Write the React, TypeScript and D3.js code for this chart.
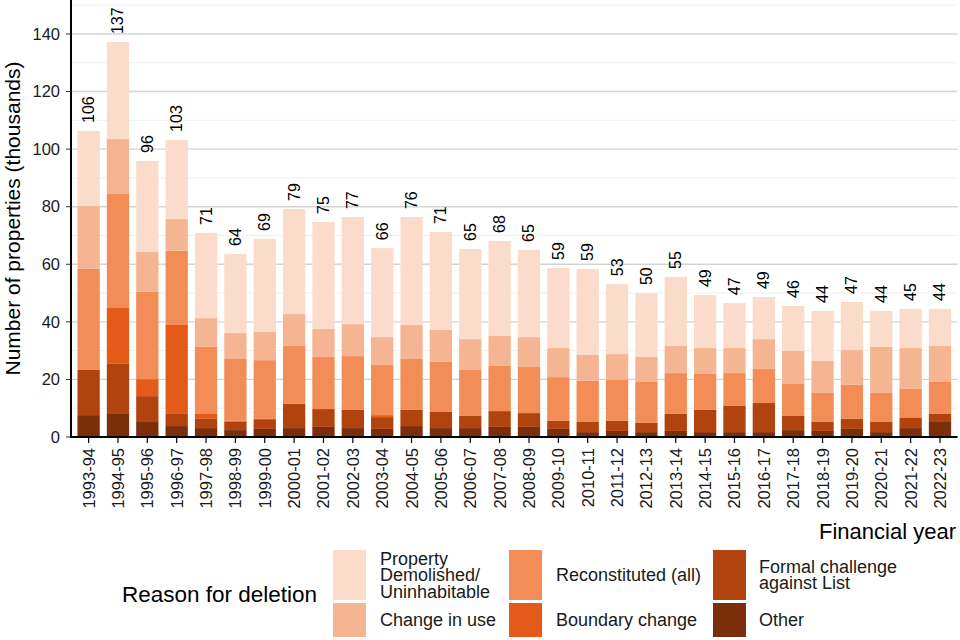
import React from "react";
import * as d3 from "d3";

// financial years (x categories)
const years = [
  "1993-94", "1994-95", "1995-96", "1996-97", "1997-98", "1998-99", "1999-00",
  "2000-01", "2001-02", "2002-03", "2003-04", "2004-05", "2005-06", "2006-07",
  "2007-08", "2008-09", "2009-10", "2010-11", "2011-12", "2012-13", "2013-14",
  "2014-15", "2015-16", "2016-17", "2017-18", "2018-19", "2019-20", "2020-21",
  "2021-22", "2022-23",
];

// values in thousands (bottom of stack first)
const other = [7.6, 8.0, 5.2, 3.8, 3.1, 2.4, 2.8, 3.1, 3.5, 3.1, 2.8, 3.8, 3.1, 3.1, 3.5, 3.5, 2.8, 1.7, 2.1, 1.7, 2.1, 1.7, 1.7, 1.7, 2.4, 2.1, 2.8, 1.7, 3.1, 5.2];
const formal = [15.7, 17.4, 9.0, 4.2, 3.2, 3.0, 3.1, 8.4, 6.2, 6.3, 4.1, 5.6, 5.6, 4.2, 5.5, 4.8, 2.8, 3.5, 3.5, 3.2, 5.9, 7.7, 9.1, 10.1, 4.9, 3.1, 3.5, 3.5, 3.5, 2.8];
const boundary = [0, 19.4, 5.9, 30.9, 1.7, 0.2, 0.4, 0, 0, 0, 0.7, 0, 0, 0, 0, 0, 0, 0, 0, 0, 0, 0, 0, 0, 0, 0, 0, 0, 0, 0];
const reconstituted = [35.1, 39.6, 30.3, 25.8, 23.3, 21.5, 20.4, 20.1, 18.1, 18.7, 17.4, 17.7, 17.4, 16.0, 15.7, 16.0, 15.2, 14.3, 14.2, 14.2, 14.2, 12.5, 11.4, 11.8, 11.1, 10.1, 11.8, 10.1, 10.1, 11.1];
const changeInUse = [21.8, 19.1, 13.9, 11.0, 10.0, 9.0, 9.8, 11.1, 9.7, 11.1, 9.7, 11.8, 11.1, 10.7, 10.4, 10.4, 10.1, 9.0, 9.0, 8.7, 9.4, 9.0, 8.7, 10.4, 11.5, 11.1, 12.1, 16.0, 14.2, 12.5];
const demolished = [26.1, 33.7, 31.6, 27.5, 29.6, 27.5, 32.3, 36.5, 37.2, 37.2, 30.9, 37.5, 34.0, 31.3, 33.0, 30.3, 27.8, 29.9, 24.3, 22.2, 24.0, 18.4, 15.6, 14.6, 15.6, 17.4, 16.7, 12.5, 13.6, 12.9];

// total labels shown above bars
const totals = [106, 137, 96, 103, 71, 64, 69, 79, 75, 77, 66, 76, 71, 65, 68, 65, 59, 59, 53, 50, 55, 49, 47, 49, 46, 44, 47, 44, 45, 44];

const yTicks = [0, 20, 40, 60, 80, 100, 120, 140];
const yMinor = [10, 30, 50, 70, 90, 110, 130, 150];

const seriesKeys = ["other", "formal", "boundary", "reconstituted", "changeInUse", "demolished"];
const seriesNames: Record<string, string[]> = {
  demolished: ["Property", "Demolished/", "Uninhabitable"],
  changeInUse: ["Change in use"],
  reconstituted: ["Reconstituted (all)"],
  boundary: ["Boundary change"],
  formal: ["Formal challenge", "against List"],
  other: ["Other"],
};
const colors: Record<string, string> = {
  demolished: "#fbdccb",
  changeInUse: "#f6b592",
  reconstituted: "#f28d57",
  boundary: "#e35a19",
  formal: "#b0430e",
  other: "#7a2e09",
};

const font = "'Liberation Sans', Arial, Helvetica, sans-serif";

export default function App() {
  const left = 71;
  const right = 957.6;
  const top = 0;
  const bottom = 437;

  const rows = years.map((yr, i) => ({
    year: yr,
    other: other[i],
    formal: formal[i],
    boundary: boundary[i],
    reconstituted: reconstituted[i],
    changeInUse: changeInUse[i],
    demolished: demolished[i],
  }));

  const stacked = d3.stack<any>().keys(seriesKeys)(rows);

  // ggplot-like discrete expansion of 0.6 on each side
  const step = (right - left) / (years.length - 1 + 1.2);
  const x = (i: number) => left + step * (0.6 + i);
  const barW = step * 0.76;

  const y = d3.scaleLinear().domain([0, 151.8]).range([bottom, top]);

  const legendCols = [
    { keys: ["demolished", "changeInUse"], kx: 333, lx: 380 },
    { keys: ["reconstituted", "boundary"], kx: 509, lx: 556 },
    { keys: ["formal", "other"], kx: 713, lx: 759 },
  ];
  const legendRows = [
    { y0: 550, h: 50 },
    { y0: 603, h: 34 },
  ];

  return (
    <svg
      width={960}
      height={640}
      style={{ position: "absolute", left: 0, top: 0, background: "#fff" }}
      fontFamily={font}
    >
      {/* gridlines */}
      {yMinor.map((t) => (
        <line key={"m" + t} x1={left} x2={right} y1={y(t)} y2={y(t)} stroke="#ebebeb" strokeWidth={0.8} />
      ))}
      {yTicks.map((t) => (
        <line key={"g" + t} x1={left} x2={right} y1={y(t)} y2={y(t)} stroke="#d4d4d4" strokeWidth={1.4} />
      ))}

      {/* bars */}
      {stacked.map((s) => (
        <g key={s.key} fill={colors[s.key]}>
          {s.map((d, i) => (
            <rect
              key={i}
              x={x(i) - barW / 2}
              y={y(d[1])}
              width={barW}
              height={Math.max(0, y(d[0]) - y(d[1]))}
            />
          ))}
        </g>
      ))}

      {/* total labels */}
      {totals.map((t, i) => {
        const topVal = stacked[stacked.length - 1][i][1];
        const ly = y(topVal) - 8;
        return (
          <text
            key={"t" + i}
            transform={`translate(${x(i) + 5.5},${ly}) rotate(-90)`}
            fontSize={16}
            textAnchor="start"
            fill="#000"
          >
            {t}
          </text>
        );
      })}

      {/* axes */}
      <line x1={left} x2={left} y1={0} y2={bottom + 1} stroke="#000" strokeWidth={2} />
      <line x1={left - 1} x2={right} y1={bottom} y2={bottom} stroke="#000" strokeWidth={2} />
      {yTicks.map((t) => (
        <g key={"yt" + t}>
          <line x1={left - 5} x2={left} y1={y(t)} y2={y(t)} stroke="#333" strokeWidth={1} />
          <text x={60} y={y(t)} dy="0.35em" textAnchor="end" fontSize={16.5} fill="#1a1a1a">
            {t}
          </text>
        </g>
      ))}
      {years.map((yr, i) => (
        <g key={"xt" + yr}>
          <line x1={x(i)} x2={x(i)} y1={bottom} y2={bottom + 6} stroke="#000" strokeWidth={1.2} />
          <text
            transform={`translate(${x(i) + 6},${bottom + 11}) rotate(-90)`}
            textAnchor="end"
            fontSize={16.5}
            fill="#1a1a1a"
          >
            {yr}
          </text>
        </g>
      ))}

      {/* axis titles */}
      <text transform={`translate(20,${(top + bottom) / 2}) rotate(-90)`} textAnchor="middle" fontSize={21}>
        Number of properties (thousands)
      </text>
      <text x={956} y={539} textAnchor="end" fontSize={22}>
        Financial year
      </text>

      {/* legend */}
      <text x={122} y={602} fontSize={22.5}>
        Reason for deletion
      </text>
      {legendCols.map((col, ci) =>
        col.keys.map((k, ri) => {
          const r = legendRows[ri];
          const lines = seriesNames[k];
          const cy = r.y0 + r.h / 2;
          const lh = 16.5;
          const firstBase = cy - ((lines.length - 1) * lh) / 2 + 6;
          return (
            <g key={k}>
              <rect x={col.kx} y={r.y0} width={33} height={r.h} fill={colors[k]} />
              <text fontSize={18} fill="#1a1a1a">
                {lines.map((ln, li) => (
                  <tspan key={li} x={col.lx} y={firstBase + li * lh}>
                    {ln}
                  </tspan>
                ))}
              </text>
            </g>
          );
        })
      )}
    </svg>
  );
}
